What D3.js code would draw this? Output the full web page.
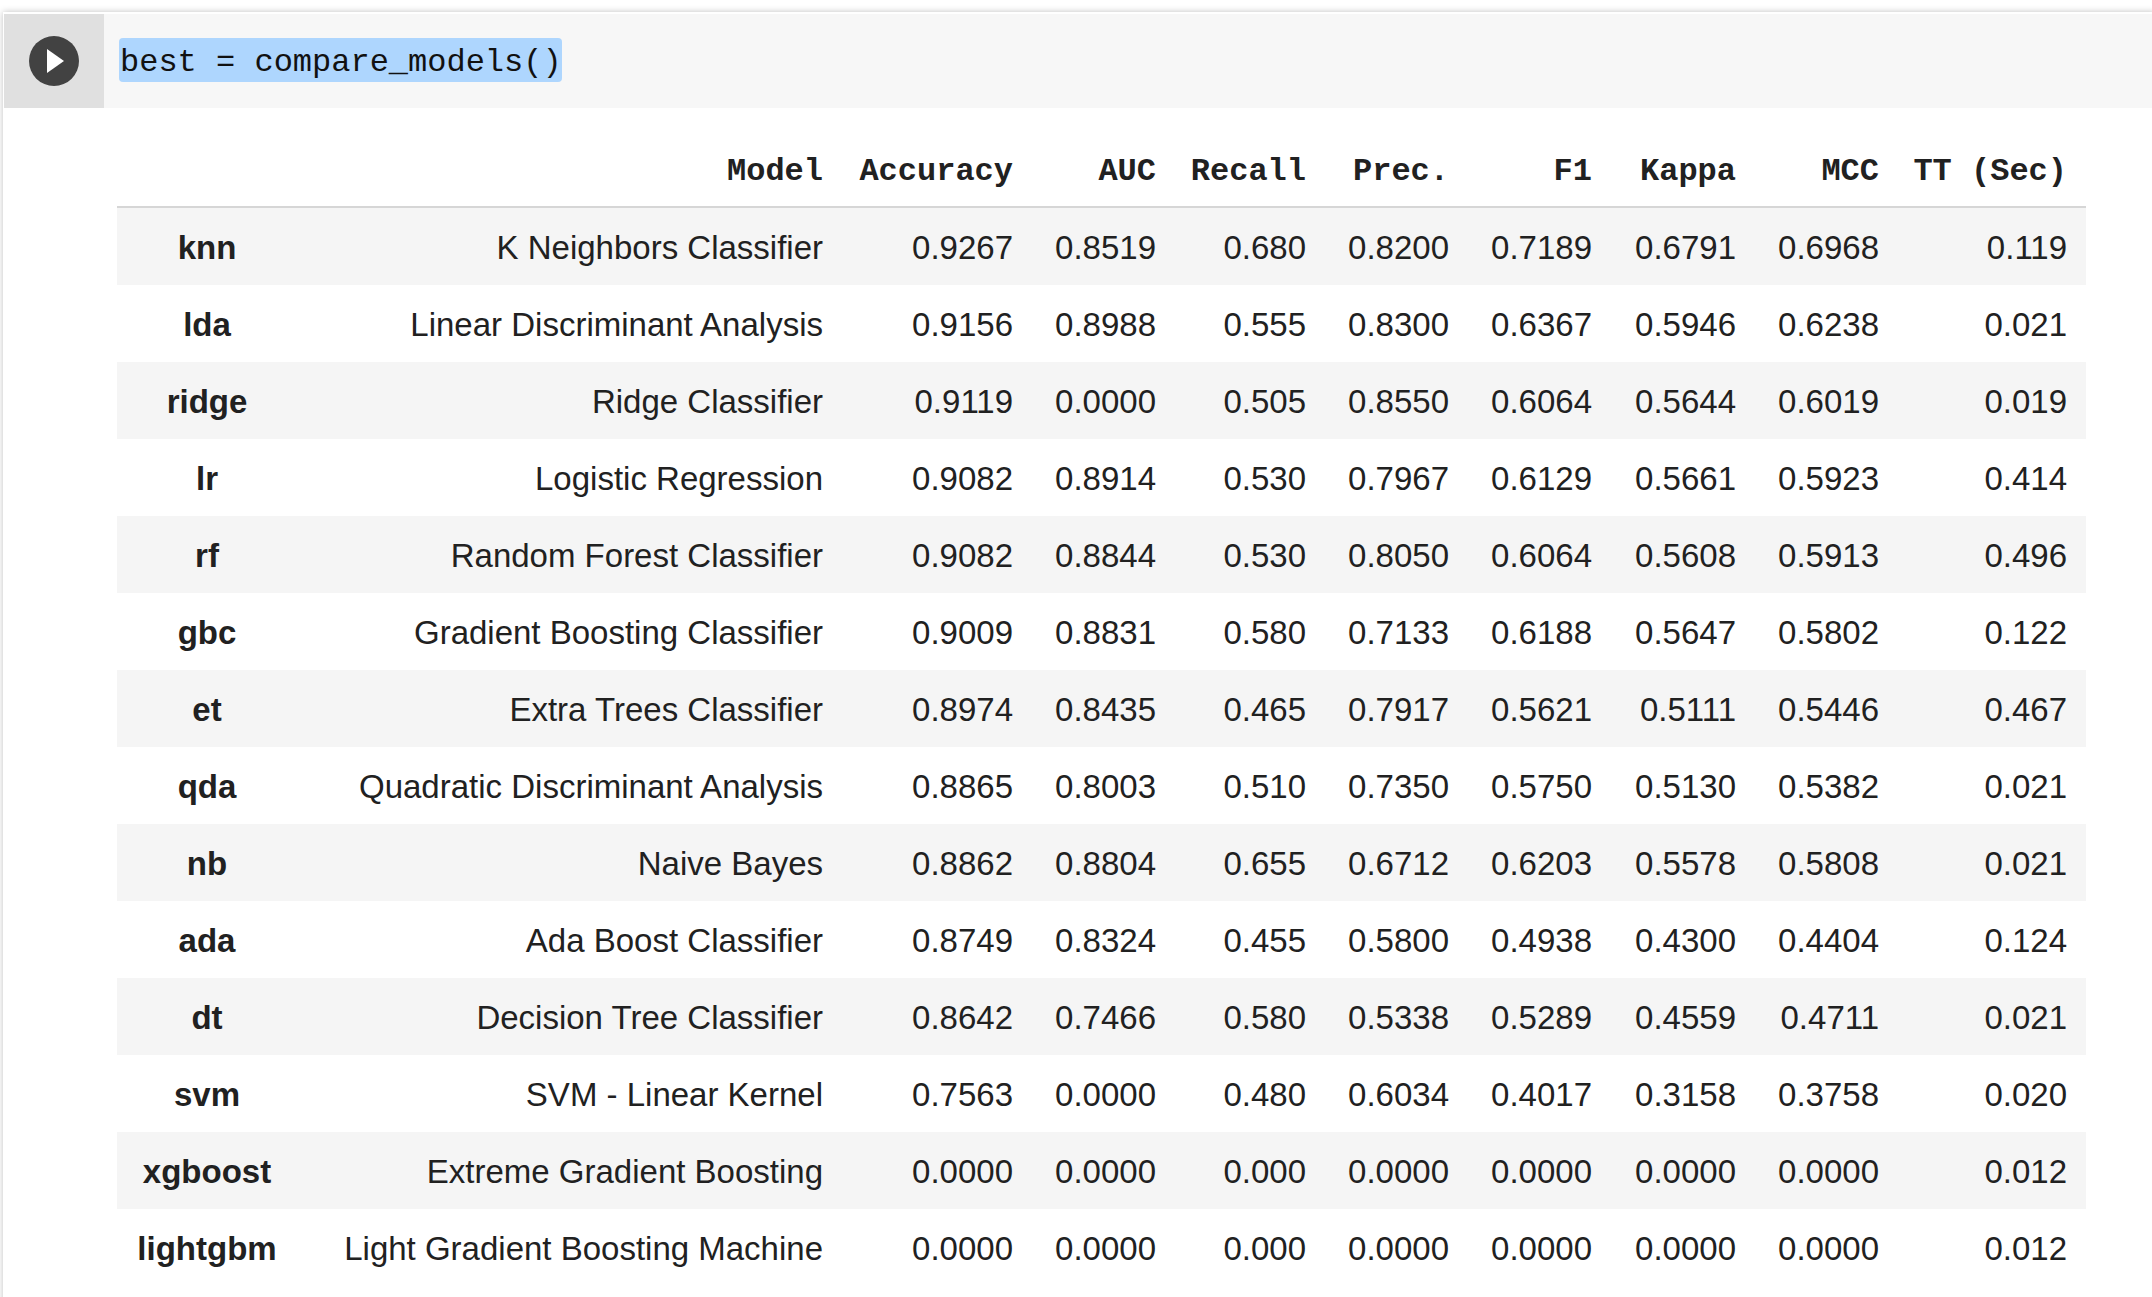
<!DOCTYPE html>
<html>
<head>
<meta charset="utf-8">
<script src="https://cdn.jsdelivr.net/npm/d3@7"></script>
<style>
  body { margin: 0; background: #fff; }
</style>
</head>
<body>
<script>
var keys = ['knn', 'lda', 'ridge', 'lr', 'rf', 'gbc', 'et', 'qda', 'nb', 'ada', 'dt', 'svm', 'xgboost', 'lightgbm'];
var models = ['K Neighbors Classifier', 'Linear Discriminant Analysis', 'Ridge Classifier', 'Logistic Regression',
  'Random Forest Classifier', 'Gradient Boosting Classifier', 'Extra Trees Classifier', 'Quadratic Discriminant Analysis',
  'Naive Bayes', 'Ada Boost Classifier', 'Decision Tree Classifier', 'SVM - Linear Kernel', 'Extreme Gradient Boosting',
  'Light Gradient Boosting Machine'];
var accuracy = ['0.9267', '0.9156', '0.9119', '0.9082', '0.9082', '0.9009', '0.8974', '0.8865', '0.8862', '0.8749', '0.8642', '0.7563', '0.0000', '0.0000'];
var auc = ['0.8519', '0.8988', '0.0000', '0.8914', '0.8844', '0.8831', '0.8435', '0.8003', '0.8804', '0.8324', '0.7466', '0.0000', '0.0000', '0.0000'];
var recall = ['0.680', '0.555', '0.505', '0.530', '0.530', '0.580', '0.465', '0.510', '0.655', '0.455', '0.580', '0.480', '0.000', '0.000'];
var prec = ['0.8200', '0.8300', '0.8550', '0.7967', '0.8050', '0.7133', '0.7917', '0.7350', '0.6712', '0.5800', '0.5338', '0.6034', '0.0000', '0.0000'];
var f1 = ['0.7189', '0.6367', '0.6064', '0.6129', '0.6064', '0.6188', '0.5621', '0.5750', '0.6203', '0.4938', '0.5289', '0.4017', '0.0000', '0.0000'];
var kappa = ['0.6791', '0.5946', '0.5644', '0.5661', '0.5608', '0.5647', '0.5111', '0.5130', '0.5578', '0.4300', '0.4559', '0.3158', '0.0000', '0.0000'];
var mcc = ['0.6968', '0.6238', '0.6019', '0.5923', '0.5913', '0.5802', '0.5446', '0.5382', '0.5808', '0.4404', '0.4711', '0.3758', '0.0000', '0.0000'];
var tt = ['0.119', '0.021', '0.019', '0.414', '0.496', '0.122', '0.467', '0.021', '0.021', '0.124', '0.021', '0.020', '0.012', '0.012'];
var headers = ['Model', 'Accuracy', 'AUC', 'Recall', 'Prec.', 'F1', 'Kappa', 'MCC', 'TT (Sec)'];

var W = 2152, H = 1297;
var svg = d3.select('body').append('svg').attr('width', W).attr('height', H);

// cell chrome
svg.append('rect').attr('x', 3).attr('y', 12).attr('width', W).attr('height', H).attr('fill', '#fff')
  .style('filter', 'drop-shadow(0 0 3px rgba(0,0,0,0.25))');
svg.append('rect').attr('x', 4).attr('y', 14).attr('width', W).attr('height', 94).attr('fill', '#f7f7f7');
svg.append('rect').attr('x', 4).attr('y', 14).attr('width', 100).attr('height', 94).attr('fill', '#e0e0e0');
svg.append('circle').attr('cx', 54).attr('cy', 61).attr('r', 25).attr('fill', '#424242');
svg.append('path').attr('d', 'M47,49 L64,61 L47,73 Z').attr('fill', '#fff');
svg.append('rect').attr('x', 119).attr('y', 38).attr('width', 443).attr('height', 44).attr('rx', 4).attr('fill', '#aed6fe');
svg.append('text').attr('x', 120).attr('y', 71).attr('font-family', 'Liberation Mono, monospace')
  .attr('font-size', 32).attr('fill', '#111').text('best = compare_models()');

// table
var left = 117, right = 2086, top0 = 208, rowH = 77;
var y = d3.scaleBand().domain(keys).range([top0, top0 + rowH * keys.length]);
var colRight = [823, 1013, 1156, 1306, 1449, 1592, 1736, 1879, 2067];
var cols = [models, accuracy, auc, recall, prec, f1, kappa, mcc, tt];

svg.selectAll('text.h').data(headers).join('text').attr('class', 'h')
  .attr('x', function (d, i) { return colRight[i]; }).attr('y', 180)
  .attr('text-anchor', 'end').attr('font-family', 'Liberation Mono, monospace')
  .attr('font-weight', 'bold').attr('font-size', 32).attr('fill', '#212121').text(function (d) { return d; });
svg.append('line').attr('x1', left).attr('x2', right).attr('y1', 207).attr('y2', 207)
  .attr('stroke', '#d6d6d6').attr('stroke-width', 2);

var rows = svg.selectAll('g.row').data(keys).join('g').attr('class', 'row')
  .attr('transform', function (d) { return 'translate(0,' + y(d) + ')'; });
rows.append('rect').attr('x', left).attr('width', right - left).attr('height', y.bandwidth())
  .attr('fill', function (d, i) { return i % 2 === 0 ? '#f5f5f5' : '#fff'; });
rows.append('text').attr('x', 207).attr('y', rowH / 2 + 12).attr('text-anchor', 'middle')
  .attr('font-family', 'Liberation Sans, Arial, sans-serif').attr('font-weight', 'bold').attr('font-size', 33)
  .attr('fill', '#212121').text(function (d) { return d; });
cols.forEach(function (arr, c) {
  rows.append('text').attr('x', colRight[c]).attr('y', rowH / 2 + 12).attr('text-anchor', 'end')
    .attr('font-family', 'Liberation Sans, Arial, sans-serif').attr('font-size', 33).attr('fill', '#212121')
    .text(function (d, i) { return arr[i]; });
});
</script>
</body>
</html>
